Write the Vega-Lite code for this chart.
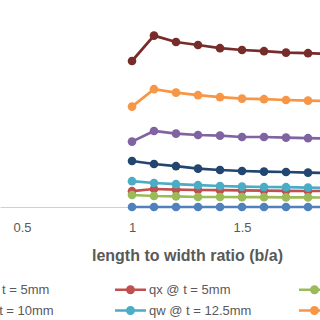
{
  "$schema": "https://vega.github.io/schema/vega-lite/v6.json",
  "width": 320,
  "height": 320,
  "autosize": {"type": "none"},
  "padding": 0,
  "background": "white",
  "config": {"view": {"stroke": null}, "font": "Liberation Sans"},
  "datasets": {
    "pts": [
      {"s": "qw @ t = 5mm", "r": 1.0, "q": 0}, {"s": "qw @ t = 5mm", "r": 1.1, "q": 0}, {"s": "qw @ t = 5mm", "r": 1.2, "q": 0}, {"s": "qw @ t = 5mm", "r": 1.3, "q": 0}, {"s": "qw @ t = 5mm", "r": 1.4, "q": 0}, {"s": "qw @ t = 5mm", "r": 1.5, "q": 0}, {"s": "qw @ t = 5mm", "r": 1.6, "q": 0}, {"s": "qw @ t = 5mm", "r": 1.7, "q": 0}, {"s": "qw @ t = 5mm", "r": 1.8, "q": 0}, {"s": "qw @ t = 5mm", "r": 1.9, "q": 0}, {"s": "qw @ t = 5mm", "r": 2.0, "q": 0},
      {"s": "qx @ t = 5mm", "r": 1.0, "q": 0.79}, {"s": "qx @ t = 5mm", "r": 1.1, "q": 0.9}, {"s": "qx @ t = 5mm", "r": 1.2, "q": 0.87}, {"s": "qx @ t = 5mm", "r": 1.3, "q": 0.85}, {"s": "qx @ t = 5mm", "r": 1.4, "q": 0.84}, {"s": "qx @ t = 5mm", "r": 1.5, "q": 0.83}, {"s": "qx @ t = 5mm", "r": 1.6, "q": 0.82}, {"s": "qx @ t = 5mm", "r": 1.7, "q": 0.81}, {"s": "qx @ t = 5mm", "r": 1.8, "q": 0.8}, {"s": "qx @ t = 5mm", "r": 1.9, "q": 0.8}, {"s": "qx @ t = 5mm", "r": 2.0, "q": 0.79},
      {"s": "qw @ t = 10mm", "r": 1.0, "q": 0.6}, {"s": "qw @ t = 10mm", "r": 1.1, "q": 0.55}, {"s": "qw @ t = 10mm", "r": 1.2, "q": 0.53}, {"s": "qw @ t = 10mm", "r": 1.3, "q": 0.5}, {"s": "qw @ t = 10mm", "r": 1.4, "q": 0.5}, {"s": "qw @ t = 10mm", "r": 1.5, "q": 0.49}, {"s": "qw @ t = 10mm", "r": 1.6, "q": 0.49}, {"s": "qw @ t = 10mm", "r": 1.7, "q": 0.48}, {"s": "qw @ t = 10mm", "r": 1.8, "q": 0.48}, {"s": "qw @ t = 10mm", "r": 1.9, "q": 0.47}, {"s": "qw @ t = 10mm", "r": 2.0, "q": 0.47},
      {"s": "qx @ t = 10mm", "r": 1.0, "q": 3.27}, {"s": "qx @ t = 10mm", "r": 1.1, "q": 3.8}, {"s": "qx @ t = 10mm", "r": 1.2, "q": 3.67}, {"s": "qx @ t = 10mm", "r": 1.3, "q": 3.6}, {"s": "qx @ t = 10mm", "r": 1.4, "q": 3.57}, {"s": "qx @ t = 10mm", "r": 1.5, "q": 3.5}, {"s": "qx @ t = 10mm", "r": 1.6, "q": 3.5}, {"s": "qx @ t = 10mm", "r": 1.7, "q": 3.47}, {"s": "qx @ t = 10mm", "r": 1.8, "q": 3.44}, {"s": "qx @ t = 10mm", "r": 1.9, "q": 3.42}, {"s": "qx @ t = 10mm", "r": 2.0, "q": 3.4},
      {"s": "qw @ t = 12.5mm", "r": 1.0, "q": 1.29}, {"s": "qw @ t = 12.5mm", "r": 1.1, "q": 1.2}, {"s": "qw @ t = 12.5mm", "r": 1.2, "q": 1.14}, {"s": "qw @ t = 12.5mm", "r": 1.3, "q": 1.09}, {"s": "qw @ t = 12.5mm", "r": 1.4, "q": 1.05}, {"s": "qw @ t = 12.5mm", "r": 1.5, "q": 1.02}, {"s": "qw @ t = 12.5mm", "r": 1.6, "q": 1.0}, {"s": "qw @ t = 12.5mm", "r": 1.7, "q": 0.99}, {"s": "qw @ t = 12.5mm", "r": 1.8, "q": 0.97}, {"s": "qw @ t = 12.5mm", "r": 1.9, "q": 0.95}, {"s": "qw @ t = 12.5mm", "r": 2.0, "q": 0.94},
      {"s": "qx @ t = 12.5mm", "r": 1.0, "q": 5.02}, {"s": "qx @ t = 12.5mm", "r": 1.1, "q": 5.89}, {"s": "qx @ t = 12.5mm", "r": 1.2, "q": 5.72}, {"s": "qx @ t = 12.5mm", "r": 1.3, "q": 5.59}, {"s": "qx @ t = 12.5mm", "r": 1.4, "q": 5.49}, {"s": "qx @ t = 12.5mm", "r": 1.5, "q": 5.42}, {"s": "qx @ t = 12.5mm", "r": 1.6, "q": 5.39}, {"s": "qx @ t = 12.5mm", "r": 1.7, "q": 5.35}, {"s": "qx @ t = 12.5mm", "r": 1.8, "q": 5.32}, {"s": "qx @ t = 12.5mm", "r": 1.9, "q": 5.3}, {"s": "qx @ t = 12.5mm", "r": 2.0, "q": 5.28},
      {"s": "qw @ t = 15mm", "r": 1.0, "q": 2.3}, {"s": "qw @ t = 15mm", "r": 1.1, "q": 2.15}, {"s": "qw @ t = 15mm", "r": 1.2, "q": 2.04}, {"s": "qw @ t = 15mm", "r": 1.3, "q": 1.92}, {"s": "qw @ t = 15mm", "r": 1.4, "q": 1.85}, {"s": "qw @ t = 15mm", "r": 1.5, "q": 1.8}, {"s": "qw @ t = 15mm", "r": 1.6, "q": 1.77}, {"s": "qw @ t = 15mm", "r": 1.7, "q": 1.75}, {"s": "qw @ t = 15mm", "r": 1.8, "q": 1.72}, {"s": "qw @ t = 15mm", "r": 1.9, "q": 1.7}, {"s": "qw @ t = 15mm", "r": 2.0, "q": 1.69},
      {"s": "qx @ t = 15mm", "r": 1.0, "q": 7.3}, {"s": "qx @ t = 15mm", "r": 1.1, "q": 8.57}, {"s": "qx @ t = 15mm", "r": 1.2, "q": 8.25}, {"s": "qx @ t = 15mm", "r": 1.3, "q": 8.1}, {"s": "qx @ t = 15mm", "r": 1.4, "q": 7.94}, {"s": "qx @ t = 15mm", "r": 1.5, "q": 7.85}, {"s": "qx @ t = 15mm", "r": 1.6, "q": 7.79}, {"s": "qx @ t = 15mm", "r": 1.7, "q": 7.72}, {"s": "qx @ t = 15mm", "r": 1.8, "q": 7.69}, {"s": "qx @ t = 15mm", "r": 1.9, "q": 7.65}, {"s": "qx @ t = 15mm", "r": 2.0, "q": 7.62}
    ]
  },
  "data": {"name": "pts"},
  "mark": {"type": "line", "strokeWidth": 2.7, "point": {"size": 75, "filled": true, "opacity": 1}},
  "encoding": {
    "x": {
      "field": "r", "type": "quantitative",
      "scale": {"domain": [0.4, 1.8545], "nice": false, "zero": false},
      "axis": {
        "values": [0.5, 1, 1.5], "format": "~g", "offset": -113,
        "domainColor": "#D0D0D0", "domainWidth": 1, "ticks": false, "grid": false,
        "labelFontSize": 13, "labelColor": "#595959", "labelPadding": 14,
        "title": "length to width ratio (b/a)", "titleFontSize": 16, "titleFontWeight": "bold",
        "titleColor": "#595959", "titleX": 187, "titleY": 48, "titleBaseline": "middle", "titleAlign": "center"
      }
    },
    "y": {
      "field": "q", "type": "quantitative",
      "scale": {"domain": [-5.65, 10.35], "nice": false, "zero": false},
      "axis": null
    },
    "color": {
      "field": "s", "type": "nominal",
      "scale": {
        "domain": ["qw @ t = 5mm", "qx @ t = 5mm", "qw @ t = 10mm", "qx @ t = 10mm", "qw @ t = 12.5mm", "qx @ t = 12.5mm", "qw @ t = 15mm", "qx @ t = 15mm"],
        "range": ["#4F81BD", "#C0504D", "#9BBB59", "#8064A2", "#4BACC6", "#F79646", "#22466F", "#772C2A"]
      },
      "legend": {
        "orient": "none", "legendX": -60, "legendY": 283, "direction": "horizontal",
        "columns": 3, "gridAlign": "all", "columnPadding": 47, "rowPadding": 7, "padding": 0,
        "title": null, "symbolSize": 100,
        "symbolType": "M-3.1,-0.25H3.1V0.25H-3.1Z M0.9,0A0.9,0.9,0,1,1,-0.9,0A0.9,0.9,0,1,1,0.9,0Z",
        "labelOffset": 12, "labelFontSize": 13, "labelColor": "#595959", "labelLimit": 200,
        "encode": {"symbols": {"update": {"fill": {"scale": "color", "field": "value"}, "strokeWidth": {"value": 0}, "opacity": {"value": 1}}}}
      }
    }
  }
}
